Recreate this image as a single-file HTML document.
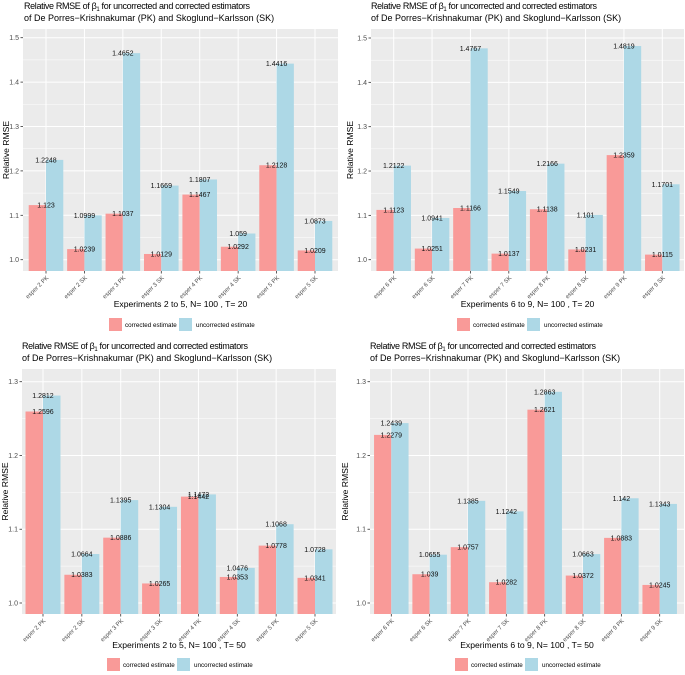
<!DOCTYPE html>
<html><head><meta charset="utf-8">
<style>
html,body{margin:0;padding:0;background:#fff;}
svg{display:block;font-family:"Liberation Sans",sans-serif;}
</style></head>
<body>
<svg id="chart" width="685" height="675" viewBox="0 0 685 675" xmlns="http://www.w3.org/2000/svg"></svg>
<script>
const catsA = ["esper 2 PK","esper 2 SK","esper 3 PK","esper 3 SK","esper 4 PK","esper 4 SK","esper 5 PK","esper 5 SK"];
const catsB = ["esper 6 PK","esper 6 SK","esper 7 PK","esper 7 SK","esper 8 PK","esper 8 SK","esper 9 PK","esper 9 SK"];
const corr1 = [1.123,1.0239,1.1037,1.0129,1.1467,1.0292,1.2128,1.0209];
const unc1  = [1.2248,1.0999,1.4652,1.1669,1.1807,1.059,1.4416,1.0873];
const corr2 = [1.1123,1.0251,1.1166,1.0137,1.1138,1.0231,1.2359,1.0115];
const unc2  = [1.2122,1.0941,1.4767,1.1549,1.2166,1.101,1.4819,1.1701];
const corr3 = [1.2596,1.0383,1.0886,1.0265,1.1442,1.0353,1.0778,1.0341];
const unc3  = [1.2812,1.0664,1.1395,1.1304,1.1472,1.0476,1.1068,1.0728];
const corr4 = [1.2279,1.039,1.0757,1.0282,1.2621,1.0372,1.0883,1.0245];
const unc4  = [1.2439,1.0655,1.1385,1.1242,1.2863,1.0663,1.142,1.1343];
const ticks20 = [1.0,1.1,1.2,1.3,1.4,1.5];
const ticks50 = [1.0,1.1,1.2,1.3];
const xtitles = ["Experiments 2 to 5, N= 100 , T= 20","Experiments 6 to 9, N= 100 , T= 20","Experiments 2 to 5, N= 100 , T= 50","Experiments 6 to 9, N= 100 , T= 50"];

const NS="http://www.w3.org/2000/svg";
const svg=document.getElementById('chart');
function mk(tag,attrs,parent){const e=document.createElementNS(NS,tag);for(const k in attrs)e.setAttribute(k,attrs[k]);(parent||svg).appendChild(e);return e;}

const panels=[
 {name:'panel-top-left',cats:catsA,corr:corr1,unc:unc1,ticks:ticks20,xt:xtitles[0],L:23,R:338,T:29,B:271,x0:46,x7:315,v0:1.0,y0:259.7,v1:1.5,y1:37.7,oy:0,tx:24,ylx:9,lx:109,xty:307},
 {name:'panel-top-right',cats:catsB,corr:corr2,unc:unc2,ticks:ticks20,xt:xtitles[1],L:371,R:684,T:29,B:271,x0:393.7,x7:662.3,v0:1.0,y0:259.7,v1:1.5,y1:38,oy:0,tx:371,ylx:353,lx:457,xty:307},
 {name:'panel-bottom-left',cats:catsA,corr:corr3,unc:unc3,ticks:ticks50,xt:xtitles[2],L:22,R:336,T:369,B:614,x0:43,x7:315,v0:1.0,y0:603,v1:1.3,y1:381.7,oy:340,tx:22,ylx:8,lx:107,xty:648},
 {name:'panel-bottom-right',cats:catsB,corr:corr4,unc:unc4,ticks:ticks50,xt:xtitles[3],L:370,R:684,T:369,B:614,x0:391.3,x7:659.7,v0:1.0,y0:603,v1:1.3,y1:381.7,oy:340,tx:370,ylx:348,lx:455,xty:648}
];

panels.forEach(p=>{
  const g=mk('g',{});
  
  
  const sp=(p.x7-p.x0)/7;
  const xc=i=>p.x0+i*sp;
  const ys=v=>p.y0+(v-p.v0)*(p.y1-p.y0)/(p.v1-p.v0);
  const t1=mk('text',{x:p.tx,y:p.oy+9,'font-size':'9','textLength':'226',fill:'#000'},g);
  
  
  t1.innerHTML='Relative RMSE of  β<tspan font-size="6" dy="2">1</tspan><tspan dy="-2">  for uncorrected and corrected estimators</tspan>';
  const t2=mk('text',{x:p.tx,y:p.oy+21,'font-size':'9',fill:'#000'},g);
  
  
  t2.textContent='of De Porres\u2212Krishnakumar (PK) and Skoglund\u2212Karlsson (SK)';
  const bg=mk('rect',{x:p.L,y:p.T,width:p.R-p.L,height:p.B-p.T,fill:'#EBEBEB'},g);
  
  
  for(let i=0;i<p.ticks.length;i++){
    const v=p.ticks[i]+0.05; const y=ys(v);
    if(y>p.T&&y<p.B) mk('line',{x1:p.L,x2:p.R,y1:y,y2:y,stroke:'#fff','stroke-width':0.5},g);
  }
  const ym=ys(p.ticks[0]-0.05); if(ym<p.B) mk('line',{x1:p.L,x2:p.R,y1:ym,y2:ym,stroke:'#fff','stroke-width':0.5},g);
  p.ticks.forEach(v=>{
    const y=ys(v);
    mk('line',{x1:p.L,x2:p.R,y1:y,y2:y,stroke:'#fff','stroke-width':1},g);
    mk('line',{x1:p.L-2.5,x2:p.L,y1:y,y2:y,stroke:'#333','stroke-width':0.8},g);
    const tl=mk('text',{x:p.L-4,y:y+2.5,'font-size':'7','text-anchor':'end',fill:'#4d4d4d'},g);
    
    
    tl.textContent=v.toFixed(1);
  });
  p.cats.forEach((c,i)=>{
    const x=xc(i);
    mk('line',{x1:x,x2:x,y1:p.T,y2:p.B,stroke:'#fff','stroke-width':1},g);
  });
  const bw=sp*0.45;
  p.cats.forEach((c,i)=>{
    const x=xc(i);
    const yc=ys(p.corr[i]), yu=ys(p.unc[i]);
    const b1=mk('rect',{x:x-bw,y:yc,width:bw,height:p.B-yc,fill:'#F99A98'},g);
    
    
    const b2=mk('rect',{x:x,y:yu,width:bw,height:p.B-yu,fill:'#ADD8E6'},g);
    
    
  });
  p.cats.forEach((c,i)=>{
    const x=xc(i);
    [p.corr[i],p.unc[i]].forEach(v=>{
      const l=mk('text',{x:x,y:ys(v)+2.5,'font-size':'7','text-anchor':'middle',fill:'#111'},g);
      
      
      l.textContent=String(v);
    });
    mk('line',{x1:x,x2:x,y1:p.B,y2:p.B+2.5,stroke:'#333','stroke-width':0.8},g);
    const xl=mk('text',{x:0,y:0,'font-size':'6','text-anchor':'end',fill:'#4d4d4d',transform:`translate(${x+3},${p.B+7}) rotate(-45)`},g);
    
    
    xl.textContent=c;
  });
  const xt=mk('text',{x:(p.L+p.R)/2,y:p.xty,'font-size':'8.6','text-anchor':'middle',fill:'#000'},g);
  
  
  xt.textContent=p.xt;
  const yt=mk('text',{x:0,y:0,'font-size':'8.6','text-anchor':'middle',fill:'#000',transform:`translate(${p.ylx},${(p.T+p.B)/2}) rotate(-90)`},g);
  
  
  yt.textContent='Relative RMSE';
  const lg=mk('g',{},g);
  
  
  const ly=p.oy+318;
  mk('rect',{x:p.lx,y:ly,width:13,height:13,fill:'#F99A98'},lg);
  const lt1=mk('text',{x:p.lx+16,y:ly+9,'font-size':'6.3',fill:'#000'},lg);
  
  
  lt1.textContent='corrected estimate';
  mk('rect',{x:p.lx+70,y:ly,width:13,height:13,fill:'#ADD8E6'},lg);
  const lt2=mk('text',{x:p.lx+87,y:ly+9,'font-size':'6.3',fill:'#000'},lg);
  
  
  lt2.textContent='uncorrected estimate';
});
</script>
</body></html>
